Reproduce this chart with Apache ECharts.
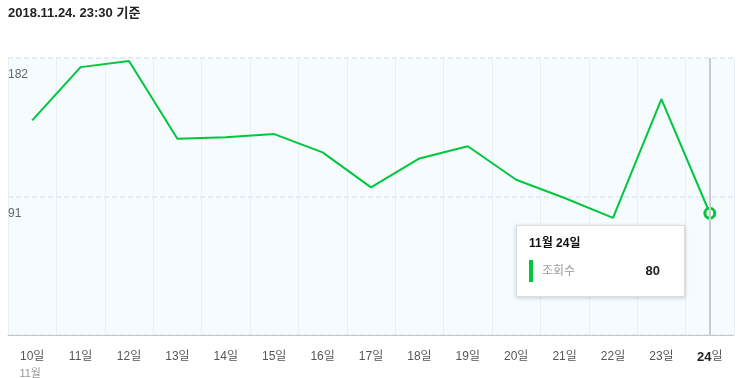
<!DOCTYPE html>
<html>
<head>
    <meta charset="utf-8">
    <title>조회수</title>
    <script src="https://cdn.jsdelivr.net/npm/echarts@6/dist/echarts.min.js"></script>
    <style>
        html, body { margin: 0; padding: 0; background: #fff; }
        #chart { width: 748px; height: 378px; }
    </style>
</head>
<body>
<div id="chart"></div>
<script type="text/javascript">
    // 일별 조회수 (2018년 11월)
    var days = ['10일', '11일', '12일', '13일', '14일', '15일', '16일', '17일', '18일', '19일', '20일', '21일', '22일', '23일', '24일'];
    var views = [141, 176, 180, 129, 130, 132, 120, 97, 116, 124, 102, 90, 77, 155, 80];
    var yTicks = [0, 91, 182];
    var lastIdx = days.length - 1;

    var seriesData = views.map(function (v, i) {
        if (i === lastIdx) {
            return {
                value: v,
                symbol: 'circle',
                symbolSize: 9,
                itemStyle: { color: '#fff', borderColor: '#00c73c', borderWidth: 3 }
            };
        }
        return v;
    });

    var font = '"Liberation Sans", "Noto Sans CJK KR", sans-serif';
    var myChart = echarts.init(document.getElementById('chart'));
    myChart.setOption({
        animation: false,
        textStyle: { fontFamily: font },
        title: {
            text: '2018.11.24. 23:30 기준',
            left: 3,
            top: 2,
            textStyle: { fontSize: 13, fontWeight: 'bold', color: '#222', fontFamily: font }
        },
        grid: {
            left: 8, right: 14, top: 58, bottom: 43,
            outerBoundsMode: 'none',
            containLabel: false,
            show: true,
            backgroundColor: '#f5fbff',
            borderWidth: 0
        },
        tooltip: {
            trigger: 'axis',
            alwaysShowContent: true,
            position: [516, 225],
            padding: 0,
            borderWidth: 1,
            borderColor: '#ddd',
            backgroundColor: '#fff',
            extraCssText: 'box-shadow:0 1px 4px rgba(0,0,0,0.2);border-radius:0;',
            axisPointer: {
                type: 'line',
                lineStyle: { color: '#c8ccd0', width: 2, type: 'solid' }
            },
            formatter: function (params) {
                var p = params[0];
                return '<div style="width:143px;height:58px;padding:7px 12px 5px 12px;box-sizing:content-box;font-family:' + font.replace(/"/g, "'") + ';">' +
                    '<div style="font-size:12px;font-weight:bold;color:#111;line-height:20px;margin-bottom:7px;">11월 ' + p.name + '</div>' +
                    '<div style="position:relative;height:22px;line-height:22px;">' +
                    '<span style="display:inline-block;width:4px;height:22px;background:#00c73c;vertical-align:top;margin-right:9px;"></span>' +
                    '<span style="font-size:12px;color:#999;vertical-align:top;">조회수</span>' +
                    '<span style="position:absolute;right:12px;top:0;font-size:13px;font-weight:bold;color:#222;">' + p.value + '</span>' +
                    '</div></div>';
            }
        },
        xAxis: {
            type: 'category',
            data: days,
            boundaryGap: true,
            axisLine: { lineStyle: { color: '#c8c8c8', width: 1 } },
            axisTick: { show: false },
            splitLine: { show: true, lineStyle: { color: '#e4f0fb', width: 1 } },
            axisLabel: {
                margin: 14,
                interval: 0,
                formatter: function (val, idx) {
                    if (idx === 0) return '{d|' + val + '}\n{m|11월}';
                    if (idx === lastIdx) return '{b|' + val.replace('일', '') + '}{d|일}';
                    return '{d|' + val + '}';
                },
                rich: {
                    d: { fontSize: 12, color: '#555', fontFamily: font, lineHeight: 16 },
                    m: { fontSize: 11, color: '#999', fontFamily: font, lineHeight: 18, padding: [0, 4, 0, 0] },
                    b: { fontSize: 13, color: '#222', fontWeight: 'bold', fontFamily: font, lineHeight: 16 }
                }
            }
        },
        yAxis: {
            type: 'value',
            min: yTicks[0],
            max: yTicks[yTicks.length - 1],
            interval: yTicks[1] - yTicks[0],
            axisLine: { show: false },
            axisTick: { show: false },
            splitLine: { lineStyle: { color: '#dfe8f0', type: [5, 3], width: 1.5 } },
            axisLabel: {
                inside: true,
                margin: 0,
                verticalAlign: 'top',
                padding: [11, 0, 0, 0],
                fontSize: 12,
                color: '#666',
                formatter: function (v) { return v === 0 ? '' : v; }
            }
        },
        series: [{
            name: '조회수',
            type: 'line',
            data: seriesData,
            symbol: 'none',
            showSymbol: true,
            lineStyle: { color: '#00c73c', width: 2 },
            itemStyle: { color: '#00c73c' },
            emphasis: { disabled: true }
        }]
    });

    myChart.dispatchAction({ type: 'showTip', seriesIndex: 0, dataIndex: lastIdx });
</script>
</body>
</html>
